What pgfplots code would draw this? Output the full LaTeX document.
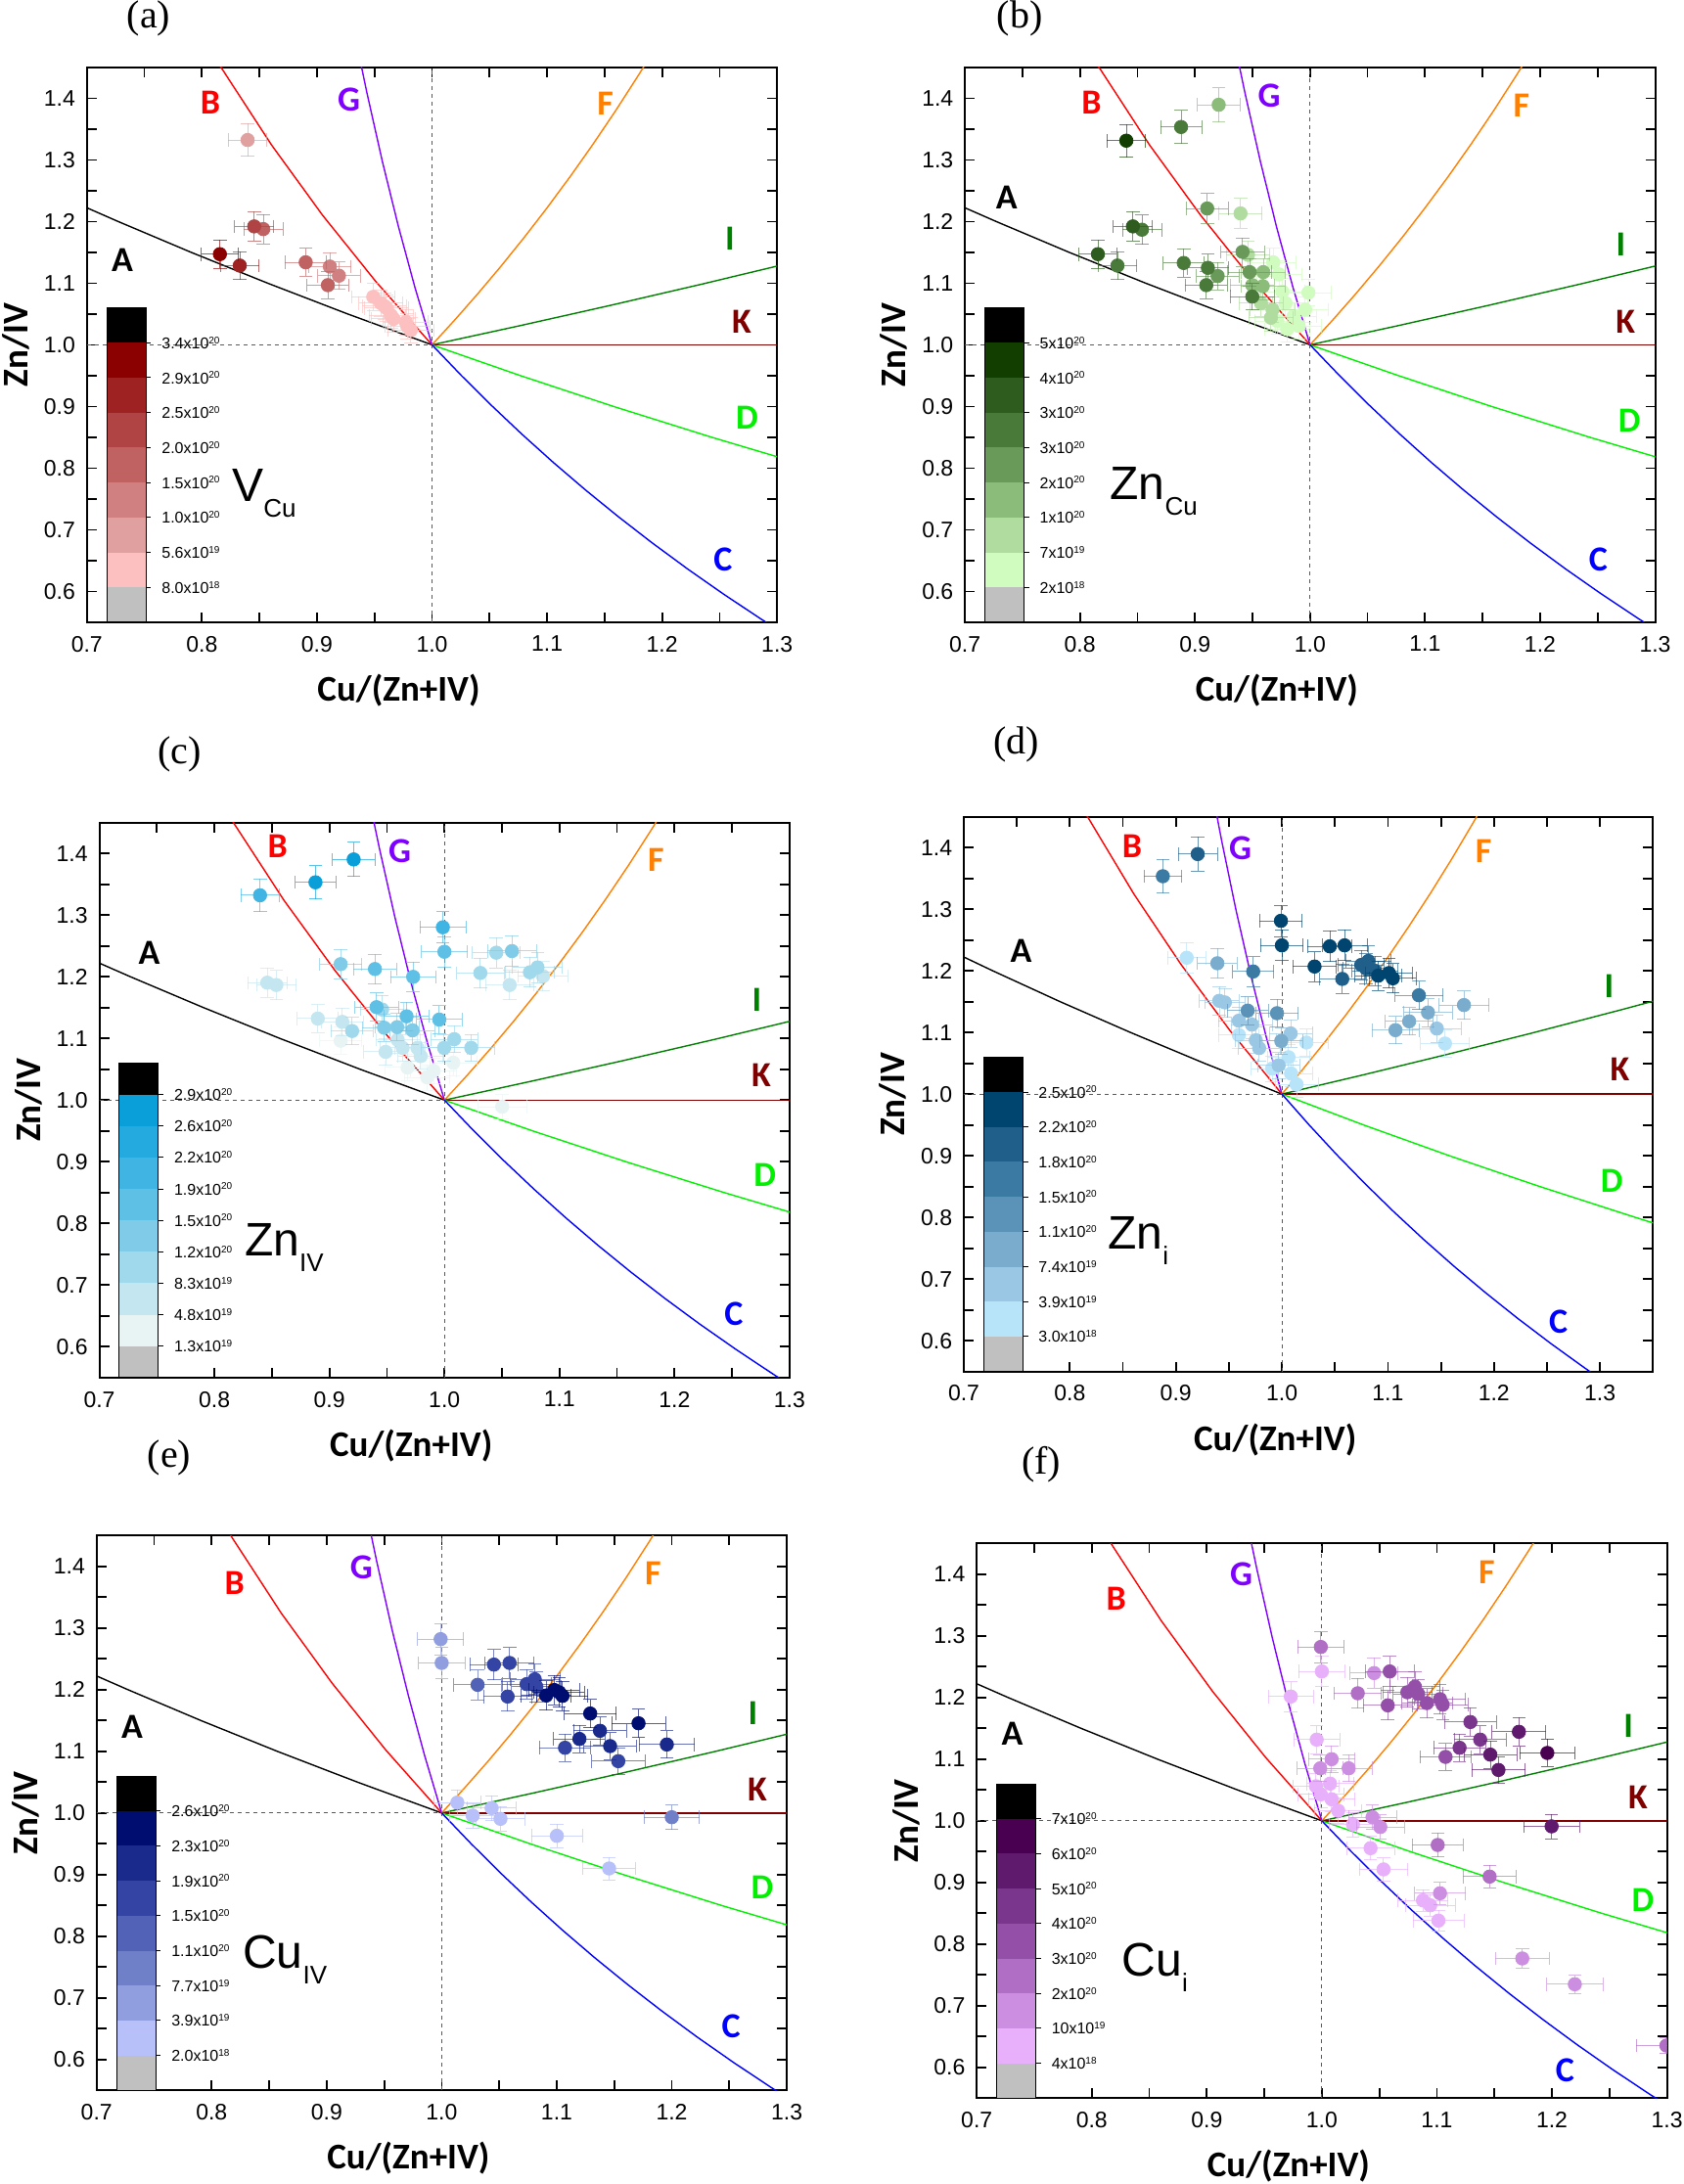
\documentclass[border=0pt]{standalone}
\usepackage{pgfplots}
\pgfplotsset{compat=1.18}
\usepackage{fontspec}
\setmainfont{Liberation Sans}
\newfontfamily\carl{Carlito}
\newfontfamily\tnr{Liberation Serif}

% line colours
\definecolor{lA}{RGB}{0,0,0}
\definecolor{lB}{RGB}{255,0,0}
\definecolor{lG}{RGB}{128,0,255}
\definecolor{lF}{RGB}{255,128,0}
\definecolor{lI}{RGB}{0,128,0}
\definecolor{lK}{RGB}{128,0,0}
\definecolor{lD}{RGB}{0,240,0}
\definecolor{lC}{RGB}{0,0,255}
\definecolor{cgray}{RGB}{192,192,192}
% V_Cu
\definecolor{aA}{HTML}{8B0000}\definecolor{aB}{HTML}{9E2222}\definecolor{aC}{HTML}{B04444}
\definecolor{aD}{HTML}{C06262}\definecolor{aE}{HTML}{D08080}\definecolor{aF}{HTML}{E0A0A0}
\definecolor{aG}{HTML}{FCC0C0}
% Zn_Cu
\definecolor{bA}{HTML}{123F00}\definecolor{bB}{HTML}{2E5C1E}\definecolor{bC}{HTML}{4A7A3A}
\definecolor{bD}{HTML}{6A9A5A}\definecolor{bE}{HTML}{8CBC7A}\definecolor{bF}{HTML}{B0DCA0}
\definecolor{bG}{HTML}{D0FCC0}
% Zn_IV
\definecolor{cA}{HTML}{0A9FD8}\definecolor{cB}{HTML}{25AAE0}\definecolor{cC}{HTML}{40B4E2}
\definecolor{cD}{HTML}{5FC0E6}\definecolor{cE}{HTML}{80CCE8}\definecolor{cF}{HTML}{A0D8EC}
\definecolor{cG}{HTML}{C4E6F0}\definecolor{cH}{HTML}{E8F4F4}
% Zn_i
\definecolor{dA}{HTML}{004570}\definecolor{dB}{HTML}{1F5F8A}\definecolor{dC}{HTML}{3B7AA2}
\definecolor{dD}{HTML}{5B93B8}\definecolor{dE}{HTML}{7AADCD}\definecolor{dF}{HTML}{9AC8E4}
\definecolor{dG}{HTML}{B8E4FA}
% Cu_IV
\definecolor{eA}{HTML}{000D70}\definecolor{eB}{HTML}{1A2A8C}\definecolor{eC}{HTML}{3444A4}
\definecolor{eD}{HTML}{5262B6}\definecolor{eE}{HTML}{7080C8}\definecolor{eF}{HTML}{909EE0}
\definecolor{eG}{HTML}{B8C0FA}
% Cu_i
\definecolor{fA}{HTML}{4A0050}\definecolor{fB}{HTML}{5F1A6E}\definecolor{fC}{HTML}{7A358C}
\definecolor{fD}{HTML}{9450A8}\definecolor{fE}{HTML}{B06EC4}\definecolor{fF}{HTML}{CC8EE0}
\definecolor{fG}{HTML}{E8B0FA}

\newcommand\sci[2]{#1x10\raisebox{2.6pt}{\fontsize{5}{5}\selectfont #2}}
\newcommand\sub[2][8pt]{\raisebox{-#1}{\fontsize{13}{13}\selectfont #2}}

\tikzset{
  lab/.style={font=\carl\bfseries\fontsize{18}{18}\selectfont, inner sep=0pt},
  big/.style={anchor=base west, inner sep=0pt, font=\fontsize{24}{24}\selectfont},
  gline/.style={line width=0.5pt, black!65, dash pattern=on 2pt off 2pt},
  bl/.style={line width=0.7pt},
}

\pgfplotsset{
  panel/.style={scale only axis, width=352.7pt, height=283.5pt,
    xmin=0.7, xmax=1.3, ymin=0.55, ymax=1.45, anchor=south west,
    xtick={0.7,0.8,0.9,1.0,1.1,1.2,1.3}, minor xtick={0.75,0.85,0.95,1.05,1.15,1.25},
    ytick={0.6,0.7,0.8,0.9,1.0,1.1,1.2,1.3,1.4},
    minor ytick={0.65,0.75,0.85,0.95,1.05,1.15,1.25,1.35},
    tick align=inside, major tick length=5pt, minor tick length=5pt,
    tick style={line width=0.9pt, black},
    axis line style={line width=1pt},
    /pgf/number format/assume math mode=true,
    ticklabel style={font=\fontsize{11.5}{12}\selectfont},
    xticklabel style={/pgf/number format/fixed, /pgf/number format/fixed zerofill,
      /pgf/number format/precision=1, yshift=-3.6pt},
    yticklabel style={/pgf/number format/fixed, /pgf/number format/fixed zerofill,
      /pgf/number format/precision=1, xshift=-2.4pt},
    xlabel={Cu/(Zn+IV)}, ylabel={Zn/IV},
    label style={font=\carl\bfseries\fontsize{18.5}{20}\selectfont},
    xlabel style={at={(axis description cs:0.4518,-0.123)}, anchor=center},
    ylabel style={at={(axis description cs:-0.1025,0.5)}, anchor=center},
    clip marker paths=true,
  },
  pt/.style={only marks, mark=*, mark size=3.4pt, color=#1,
    mark options={draw=none, fill=#1},
    error bars/.cd, x dir=both, y dir=both,
    x fixed relative=0.02, y fixed relative=0.02,
    error bar style={line width=0.5pt, draw opacity=0.65}},
}

% boundary lines of the off-stoichiometry types
\newcommand\boundaries{%
  \addplot[gline] coordinates {(1,0.55) (1,1.45)};
  \addplot[gline] coordinates {(0.7,1) (1,1)};
  \addplot[bl, lA] coordinates {(1,1) (0.92683,1.05) (0.85714,1.1) (0.7907,1.15) (0.72727,1.2) (0.69,1.2305)};
  \addplot[bl, lB] coordinates {(1,1) (0.95122,1.10256) (0.90476,1.21053) (0.86047,1.32432) (0.80995,1.46927)};
  \addplot[bl, lG] coordinates {(1,1) (0.98522,1.09278) (0.97087,1.19149) (0.95694,1.2967) (0.9434,1.40909) (0.93677,1.46821)};
  \addplot[bl, lF] coordinates {(1,1) (1.02,1.04082) (1.04,1.08333) (1.06,1.12766) (1.08,1.17391) (1.1,1.22222) (1.12,1.27273) (1.14,1.32558) (1.16,1.38095) (1.18,1.43902) (1.19,1.46914)};
  \addplot[bl, lI] coordinates {(1,1) (1.07614,1.03093) (1.15464,1.06383) (1.2356,1.0989) (1.31915,1.13636) (1.36193,1.15607)};
  \addplot[bl, lK] coordinates {(1,1) (1.36,1)};
  \addplot[bl, lD] coordinates {(1,1) (1.07692,0.95) (1.15789,0.9) (1.24324,0.85) (1.33333,0.8) (1.35196,0.79)};
  \addplot[bl, lC] coordinates {(1,1) (1.02532,0.95062) (1.05128,0.90244) (1.07792,0.85542) (1.10526,0.80952) (1.13333,0.76471) (1.16216,0.72093) (1.19178,0.67816) (1.22222,0.63636) (1.25352,0.59551) (1.28571,0.55556) (1.29885,0.53982)};
}

% #1 axis name, #2 axis width, #3 number of boxes, #4 colours from bottom to top
\newcommand\colbar[4]{%
  \begin{scope}[shift={(#1.south west)}, x=#2, y=283.5pt]
    \foreach \c [count=\i from 0] in {#4} {
      \fill[\c] (0.029,{\i*0.5667/#3}) rectangle (0.0855,{(\i+1)*0.5667/#3});
    }
    \draw[line width=0.5pt] (0.029,0) rectangle (0.0855,0.5667);
  \end{scope}}
% #1 axis name, #2 axis width, #3 number of boxes, #4 labels from bottom to top
\newcommand\colbarlabels[4]{%
  \begin{scope}[shift={(#1.south west)}, x=#2, y=283.5pt]
    \foreach \l [count=\i] in {#4} {
      \draw[line width=0.5pt] (0.0855,{\i*0.5667/#3}) -- (0.093,{\i*0.5667/#3});
      \node[anchor=west, inner sep=0pt, font=\fontsize{8}{8}\selectfont] at (0.108,{\i*0.5667/#3}) {\l};
    }
  \end{scope}}

\begin{document}
\begin{tikzpicture}
\useasboundingbox (0,0) rectangle (860pt,-1116pt);

% ---------------- (a) V_Cu
\node[font=\tnr\fontsize{20}{20}\selectfont] at (76pt,-9.2pt) {(a)};
\begin{axis}[panel, name=pa, at={(44.4pt,-317.95pt)}]
\boundaries
\addplot[pt=aG] coordinates {(0.9489,1.0778) (0.9555,1.0677) (0.9587,1.063) (0.9603,1.0598) (0.9645,1.0476) (0.9665,1.042) (0.9773,1.037) (0.9785,1.030) (0.9816,1.0238)};
\addplot[pt=aF] coordinates {(0.8397,1.3323)};
\addplot[pt=aE] coordinates {(0.9112,1.127) (0.9191,1.1122)};
\addplot[pt=aD] coordinates {(0.8533,1.1878) (0.8902,1.1339) (0.9095,1.0968)};
\addplot[pt=aC] coordinates {(0.8454,1.1921)};
\addplot[pt=aB] coordinates {(0.8329,1.1286)};
\addplot[pt=aA] coordinates {(0.8156,1.1471)};
\node[lab, lA] at (axis cs:0.7308,1.1377) {A};
\node[lab, lB] at (axis cs:0.8073,1.3927) {B};
\node[lab, lG] at (axis cs:0.9277,1.397) {G};
\node[lab, lF] at (axis cs:1.1507,1.391) {F};
\node[lab, lI] at (axis cs:1.259,1.1727) {I};
\node[lab, lK] at (axis cs:1.2692,1.0379) {K};
\node[lab, lD] at (axis cs:1.2739,0.8812) {D};
\node[lab, lC] at (axis cs:1.2529,0.6517) {C};
\node[big] at (axis cs:0.826,0.7464) {V\sub{Cu}};
\end{axis}
\colbar{pa}{352.7pt}{9}{cgray,aG,aF,aE,aD,aC,aB,aA,black}
\colbarlabels{pa}{352.7pt}{9}{\sci{8.0}{18},\sci{5.6}{19},\sci{1.0}{20},\sci{1.5}{20},\sci{2.0}{20},\sci{2.5}{20},\sci{2.9}{20},\sci{3.4}{20}}

% ---------------- (b) Zn_Cu
\node[font=\tnr\fontsize{20}{20}\selectfont] at (521pt,-9.2pt) {(b)};
\begin{axis}[panel, name=pb, at={(493.05pt,-317.95pt)}]
\boundaries
\addplot[pt=bG] coordinates {(0.968,1.1339) (0.973,1.1143) (0.9759,1.0862) (0.9787,1.0677) (0.9858,1.0466) (0.9901,1.0307) (0.9986,1.0847) (0.9957,1.0571) (0.9801,1.0254) (0.9716,1.0386)};
\addplot[pt=bF] coordinates {(0.9396,1.2132) (0.9461,1.146) (0.9574,1.0677) (0.9674,1.0571) (0.966,1.0439)};
\addplot[pt=bE] coordinates {(0.9206,1.3894) (0.9498,1.0968) (0.9594,1.118) (0.9589,1.0952)};
\addplot[pt=bD] coordinates {(0.9106,1.2212) (0.9197,1.1116) (0.9413,1.1508) (0.9475,1.118)};
\addplot[pt=bC] coordinates {(0.8539,1.1868) (0.8326,1.1286) (0.8879,1.3534) (0.8902,1.1328) (0.9112,1.1249) (0.9098,1.0968) (0.9498,1.0783)};
\addplot[pt=bB] coordinates {(0.846,1.1921) (0.8156,1.1471)};
\addplot[pt=bA] coordinates {(0.8403,1.3312)};
\node[lab, lA] at (axis cs:0.7364,1.2383) {A};
\node[lab, lB] at (axis cs:0.8101,1.3927) {B};
\node[lab, lG] at (axis cs:0.9646,1.4044) {G};
\node[lab, lF] at (axis cs:1.1838,1.389) {F};
\node[lab, lI] at (axis cs:1.2701,1.1632) {I};
\node[lab, lK] at (axis cs:1.2743,1.0379) {K};
\node[lab, lD] at (axis cs:1.2776,0.8776) {D};
\node[lab, lC] at (axis cs:1.2505,0.6517) {C};
\node[big] at (axis cs:0.826,0.7486) {Zn\sub{Cu}};
\end{axis}
\colbar{pb}{352.7pt}{9}{cgray,bG,bF,bE,bD,bC,bB,bA,black}
\colbarlabels{pb}{352.7pt}{9}{\sci{2}{18},\sci{7}{19},\sci{1}{20},\sci{2}{20},\sci{3}{20},\sci{3}{20},\sci{4}{20},\sci{5}{20}}

% ---------------- (c) Zn_IV
\node[font=\tnr\fontsize{20}{20}\selectfont] at (91.85pt,-385.35pt) {(c)};
\begin{axis}[panel, name=pc, at={(50.75pt,-703.9pt)}]
\boundaries
\addplot[pt=cH] coordinates {(1.0077,1.0608) (0.9098,1.0963) (0.9679,1.0529) (0.985,1.037) (1.0502,0.9894) (0.9906,1.0476)};
\addplot[pt=cG] coordinates {(0.846,1.1905) (0.8539,1.1868) (1.0567,1.1868) (1.0857,1.2011) (0.8899,1.1323) (0.9112,1.127) (0.9489,1.0783) (0.9594,1.0979) (0.9765,1.0847) (0.9793,1.0714) (0.9637,1.0847)};
\addplot[pt=cF] coordinates {(1.0451,1.2392) (1.0312,1.2063) (0.9458,1.1471) (1.0085,1.0989) (1.0233,1.0847) (0.9997,1.0847) (1.0743,1.2074) (1.0809,1.2153) (0.9197,1.1122)};
\addplot[pt=cE] coordinates {(0.9098,1.2206) (0.9475,1.1175) (0.9589,1.1185) (0.9722,1.1132) (1.0587,1.2418)};
\addplot[pt=cD] coordinates {(1.0,1.2407) (0.9396,1.2127) (0.9728,1.2) (0.941,1.1508) (0.9671,1.136) (0.9955,1.1307)};
\addplot[pt=cC] coordinates {(0.8397,1.3323) (0.9986,1.2804)};
\addplot[pt=cA] coordinates {(0.8879,1.3534) (0.9211,1.3905)};
\node[lab, lA] at (axis cs:0.7434,1.2382) {A};
\node[lab, lB] at (axis cs:0.8549,1.4120) {B};
\node[lab, lG] at (axis cs:0.9613,1.4045) {G};
\node[lab, lF] at (axis cs:1.1838,1.3895) {F};
\node[lab, lI] at (axis cs:1.2716,1.1633) {I};
\node[lab, lK] at (axis cs:1.2753,1.0397) {K};
\node[lab, lD] at (axis cs:1.2786,0.8787) {D};
\node[lab, lC] at (axis cs:1.2515,0.6532) {C};
\node[big] at (axis cs:0.826,0.7476) {Zn\sub[8.3pt]{IV}};
\end{axis}
\colbar{pc}{352.7pt}{10}{cgray,cH,cG,cF,cE,cD,cC,cB,cA,black}
\colbarlabels{pc}{352.7pt}{10}{\sci{1.3}{19},\sci{4.8}{19},\sci{8.3}{19},\sci{1.2}{20},\sci{1.5}{20},\sci{1.9}{20},\sci{2.2}{20},\sci{2.6}{20},\sci{2.9}{20}}

% ---------------- (d) Zn_i
\node[font=\tnr\fontsize{20}{20}\selectfont] at (519.4pt,-380.5pt) {(d)};
\begin{axis}[panel, name=pd, at={(492.5pt,-700.8pt)}, width=352.15pt, xmax=1.35]
\boundaries
\addplot[pt=dG] coordinates {(1.1538,1.082) (0.9102,1.2212) (0.9594,1.0958) (1.0231,1.0836) (1.0062,1.0598) (1.0086,1.0333) (1.0138,1.0159) (0.9908,1.0413)};
\addplot[pt=dF] coordinates {(1.1461,1.1063) (0.9409,1.1513) (0.9462,1.1487) (0.9594,1.119) (0.9717,1.1127) (0.9754,1.0873) (0.9785,1.0746) (1.0083,1.0984) (0.9969,1.0466)};
\addplot[pt=dE] coordinates {(1.1717,1.1444) (1.1378,1.1323) (1.12,1.118) (1.1071,1.1037) (0.9391,1.2122) (0.9994,1.0862)};
\addplot[pt=dD] coordinates {(0.9677,1.1354) (0.9954,1.1312)};
\addplot[pt=dC] coordinates {(0.8877,1.3534) (1.1292,1.1603) (0.9729,1.1989)};
\addplot[pt=dB] coordinates {(0.9206,1.3894) (1.0569,1.1868) (1.0748,1.2095) (1.0815,1.2159) (1.0794,1.2037) (1.0877,1.2)};
\addplot[pt=dA] coordinates {(0.9991,1.281) (1.0,1.2413) (1.0452,1.2397) (1.0591,1.2413) (1.0308,1.2069) (1.0908,1.1921) (1.1009,1.1963) (1.1046,1.1878)};
\node[lab, lA] at (axis cs:0.7539,1.2322) {A};
\node[lab, lB] at (axis cs:0.8588,1.4022) {B};
\node[lab, lG] at (axis cs:0.9607,1.3985) {G};
\node[lab, lF] at (axis cs:1.1901,1.3948) {F};
\node[lab, lI] at (axis cs:1.3086,1.1753) {I};
\node[lab, lK] at (axis cs:1.3187,1.0404) {K};
\node[lab, lD] at (axis cs:1.3111,0.8592) {D};
\node[lab, lC] at (axis cs:1.2607,0.6307) {C};
\node[big] at (axis cs:0.8356,0.7483) {Zn\sub{i}};
\end{axis}
\colbar{pd}{352.15pt}{9}{cgray,dG,dF,dE,dD,dC,dB,dA,black}
\colbarlabels{pd}{352.15pt}{9}{\sci{3.0}{18},\sci{3.9}{19},\sci{7.4}{19},\sci{1.1}{20},\sci{1.5}{20},\sci{1.8}{20},\sci{2.2}{20},\sci{2.5}{20}}

% ---------------- (e) Cu_IV
\node[font=\tnr\fontsize{20}{20}\selectfont] at (86.5pt,-745pt) {(e)};
\begin{axis}[panel, name=pe, at={(49.35pt,-1068.15pt)}]
\boundaries
\addplot[pt=eG] coordinates {(1.0136,1.0169) (1.0434,1.0079) (1.027,0.9958) (1.0511,0.9905) (1.1001,0.963) (1.1455,0.91)};
\addplot[pt=eF] coordinates {(0.9991,1.282) (1.0,1.2434)};
\addplot[pt=eE] coordinates {(1.2,0.9931)};
\addplot[pt=eD] coordinates {(1.0312,1.2079)};
\addplot[pt=eC] coordinates {(1.0454,1.2407) (1.059,1.2434) (1.0573,1.1889) (1.0738,1.209) (1.0809,1.2169) (1.0823,1.2048) (1.1072,1.1058) (1.1535,1.0841)};
\addplot[pt=eB] coordinates {(1.1376,1.1333) (1.1197,1.1201) (1.1464,1.1085) (1.1957,1.1111)};
\addplot[pt=eA] coordinates {(1.0908,1.1905) (1.0979,1.1995) (1.1021,1.1958) (1.105,1.19) (1.1291,1.1614) (1.1711,1.1455)};
\node[lab, lA] at (axis cs:0.7308,1.1397) {A};
\node[lab, lB] at (axis cs:0.8199,1.3734) {B};
\node[lab, lG] at (axis cs:0.9301,1.3985) {G};
\node[lab, lF] at (axis cs:1.1838,1.3896) {F};
\node[lab, lI] at (axis cs:1.2706,1.1627) {I};
\node[lab, lK] at (axis cs:1.2743,1.0384) {K};
\node[lab, lD] at (axis cs:1.2786,0.8795) {D};
\node[lab, lC] at (axis cs:1.2515,0.654) {C};
\node[big] at (axis cs:0.8269,0.7486) {Cu\sub{IV}};
\end{axis}
\colbar{pe}{352.7pt}{9}{cgray,eG,eF,eE,eD,eC,eB,eA,black}
\colbarlabels{pe}{352.7pt}{9}{\sci{2.0}{18},\sci{3.9}{19},\sci{7.7}{19},\sci{1.1}{20},\sci{1.5}{20},\sci{1.9}{20},\sci{2.3}{20},\sci{2.6}{20}}

% ---------------- (f) Cu_i
\node[font=\tnr\fontsize{20}{20}\selectfont] at (532pt,-748.5pt) {(f)};
\begin{axis}[panel, name=pf, at={(499.1pt,-1072.15pt)}]
\boundaries
\addplot[pt=fG] coordinates {(1.0,1.2423) (0.973,1.2016) (0.9955,1.1317) (1.0071,1.0603) (0.9949,1.0561) (0.9991,1.0429) (1.0085,1.0349) (1.0142,1.0164) (1.027,0.9942) (1.0423,0.9556) (1.0536,0.9212) (1.0879,0.8709) (1.0942,0.863) (1.1013,0.8381)};
\addplot[pt=fF] coordinates {(1.0454,1.2397) (1.0085,1.1) (0.9986,1.0852) (1.0233,1.0852) (1.044,1.0058) (1.0508,0.9899) (1.1027,0.8825) (1.1742,0.7767) (1.2199,0.7349)};
\addplot[pt=fE] coordinates {(0.9991,1.282) (1.0312,1.2069) (1.1007,0.9608) (1.1458,0.9095) (1.2995,0.6354)};
\addplot[pt=fD] coordinates {(1.059,1.2423) (1.0573,1.1873) (1.0743,1.2085) (1.0809,1.2175) (1.0837,1.2058) (1.0913,1.191) (1.1027,1.1974) (1.105,1.1884) (1.1075,1.1037)};
\addplot[pt=fC] coordinates {(1.1291,1.1603) (1.1376,1.1317) (1.1197,1.1185)};
\addplot[pt=fB] coordinates {(1.1713,1.1444) (1.1464,1.1074) (1.1535,1.0825) (1.1997,0.991)};
\addplot[pt=fA] coordinates {(1.196,1.1101)};
\node[lab, lA] at (axis cs:0.7308,1.1407) {A};
\node[lab, lB] at (axis cs:0.8213,1.3607) {B};
\node[lab, lG] at (axis cs:0.930,1.40) {G};
\node[lab, lF] at (axis cs:1.1432,1.403) {F};
\node[lab, lI] at (axis cs:1.2664,1.1533) {I};
\node[lab, lK] at (axis cs:1.2748,1.0385) {K};
\node[lab, lD] at (axis cs:1.2790,0.8719) {D};
\node[lab, lC] at (axis cs:1.2114,0.5956) {C};
\node[big] at (axis cs:0.826,0.7474) {Cu\sub{i}};
\end{axis}
\colbar{pf}{352.7pt}{9}{cgray,fG,fF,fE,fD,fC,fB,fA,black}
\colbarlabels{pf}{352.7pt}{9}{\sci{4}{18},\sci{10}{19},\sci{2}{20},\sci{3}{20},\sci{4}{20},\sci{5}{20},\sci{6}{20},\sci{7}{20}}
\end{tikzpicture}
\end{document}
